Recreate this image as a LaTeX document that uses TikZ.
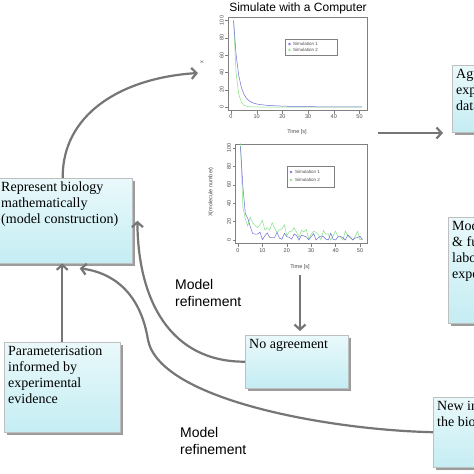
\documentclass[tikz,border=0pt]{standalone}
\usepackage{fontspec}
\setmainfont{Liberation Serif}
\setsansfont{Liberation Sans}
\usetikzlibrary{arrows.meta,shadows}
\definecolor{boxtop}{RGB}{234,249,251}
\definecolor{boxbot}{RGB}{196,237,243}
\definecolor{linkgray}{RGB}{118,118,118}
\definecolor{simblue}{RGB}{110,110,215}
\definecolor{simgreen}{RGB}{135,225,135}
\newcommand{\stagetext}[3]{\parbox[t][#2][t]{#1}{\raggedright #3}}
\tikzset{
  stage/.style={anchor=north west, draw=black!25, top color=boxtop, bottom color=boxbot, inner sep=4pt,
    drop shadow={fill=black!55, shadow xshift=2.5pt, shadow yshift=-2.5pt, opacity=0.7},
    font=\fontsize{14}{16}\selectfont},
  link/.style={draw=linkgray, line width=2.2pt, -{Straight Barb[length=5pt,width=11pt]}},
  note/.style={anchor=north west, align=left, inner sep=0pt, font=\sffamily\fontsize{14}{17}\selectfont},
  plottick/.style={font=\sffamily\fontsize{5.5}{6}\selectfont, text=black!70, inner sep=1pt},
  plotframe/.style={draw=black!50, line width=0.4pt},
  sim/.style={line width=0.5pt, mark=o, mark size=0.8pt}
}

\begin{document}
\begin{tikzpicture}[x=1pt,y=-1pt]
  \useasboundingbox (0,0) rectangle (474,474);
  \clip (0,0) rectangle (474,474);
  \fill[white] (0,0) rectangle (474,474);

  \node[font=\sffamily\fontsize{12}{14}\selectfont, inner sep=0pt] (title) at (298,8) {Simulate with a Computer};
  \begin{scope}[shift={(231,107)}, x=2.57pt, y=0.865pt]
    \draw[plotframe] (-1,-4) rectangle (53,104);
    \foreach \tx in {0,10,...,50} {
      \draw[plotframe] (\tx,-4) -- ++(0,-4);
      \node[plottick, below] at (\tx,-8) {\tx};
    }
    \foreach \yv in {0,20,...,100} {
      \draw[plotframe] (-1,\yv) -- ++(-1.2,0);
      \node[plottick, rotate=90, anchor=south] at (-2.4,\yv) {\yv};
    }
    \draw[sim, simgreen] plot[domain=1:51, samples=51] (\x, {100*exp(-0.95*(\x-1))});
    \draw[sim, simblue] plot[domain=1:51, samples=51] (\x, {93*exp(-0.55*(\x-1)) + 7*exp(-(\x-1)/10)});
  \end{scope}
  \node[plottick, rotate=90] (xlab1) at (202,62) {x};
  \node[plottick] (tlab1) at (297,132) {Time [s]};
  \draw[plotframe] (285,39) rectangle (337,55);
  \draw[simblue, line width=0.4pt] (289.5,44) circle (1pt);
  \draw[simgreen, line width=0.4pt] (289.5,50) circle (1pt);
  \node[plottick, anchor=west, font=\sffamily\fontsize{4.5}{5}\selectfont] (leg1a) at (292,44) {Simulation 1};
  \node[plottick, anchor=west, font=\sffamily\fontsize{4.5}{5}\selectfont] (leg1b) at (292,50) {Simulation 2};

  \begin{scope}[shift={(238,240)}, x=2.44pt, y=0.92pt]
    \draw[plotframe] (-1,-4) rectangle (53,104);
    \foreach \tx in {0,10,...,50} {
      \draw[plotframe] (\tx,-4) -- ++(0,-4);
      \node[plottick, below] at (\tx,-8) {\tx};
    }
    \foreach \yv in {0,20,...,100} {
      \draw[plotframe] (-1,\yv) -- ++(-1.2,0);
      \node[plottick, rotate=90, anchor=south] at (-2.4,\yv) {\yv};
    }
    \draw[sim, simgreen] plot[domain=1:51, samples=51]
      (\x, {78*exp(-1.6*(\x-1)) + max(0, 22*exp(-(\x-1)/25) + 4*sin(83*\x) + 3*sin(157*\x))});
    \draw[sim, simblue] plot[domain=1:51, samples=51]
      (\x, {95*exp(-0.6*(\x-1)) + max(0, 5 - \x/15 + 3*sin(97*\x) + 2*sin(211*\x))});
  \end{scope}
  \node[plottick, rotate=90] (xlab2) at (211,192) {X(molecule number)};
  \node[plottick] (tlab2) at (300,267) {Time [s]};
  \draw[plotframe] (287,166) rectangle (334,187);
  \draw[simblue, line width=0.4pt] (291,172) circle (1pt);
  \draw[simgreen, line width=0.4pt] (291,180) circle (1pt);
  \node[plottick, anchor=west, font=\sffamily\fontsize{4.5}{5}\selectfont] (leg2a) at (294,172) {Simulation 1};
  \node[plottick, anchor=west, font=\sffamily\fontsize{4.5}{5}\selectfont] (leg2b) at (294,180) {Simulation 2};

  \coordinate (sim1in) at (198,73);
  \coordinate (sim1out) at (378,133);
  \coordinate (sim2out) at (300,275);

  \node[stage] (rep) at (-3,178) {\stagetext{127pt}{77pt}{Represent biology\\ mathematically\\ (model construction)}};
  \node[stage] (param) at (4,342) {\stagetext{108pt}{82pt}{Parameterisation\\ informed by\\ experimental\\ evidence}};
  \node[stage] (noagr) at (245,335) {\stagetext{95pt}{45pt}{No agreement}};
  \node[stage] (agree) at (452,65) {\stagetext{112pt}{59pt}{Agreement with\\ experimental\\ data}};
  \node[stage] (refine) at (448,217) {\stagetext{112pt}{98pt}{Model predictions\\ \& further\\ laboratory\\ experiments}};
  \node[stage] (insight) at (433,397) {\stagetext{112pt}{62pt}{New insights into\\ the biology}};

  \node[note] (refine1) at (175,279) {Model\\ refinement};
  \node[note] (refine2) at (180,427) {Model\\ refinement};

  \draw[link] ([xshift=-2pt]rep.north) .. controls (62,115) and (120,78) .. (sim1in);
  \draw[link] (param.north) -- (param.north |- rep.south);
  \draw[link] (noagr.west) .. controls (170,362) and (138,300) .. ([xshift=5pt]rep.east);
  \draw[link] (insight.west) .. controls (330,430) and (160,400) .. (148,340)
    .. controls (140,290) and (110,272) .. ([xshift=15pt,yshift=-5pt]rep.south);
  \draw[link, shorten >=9pt] (sim1out) -- (sim1out -| agree.west);
  \draw[link, shorten >=4pt] (sim2out) -- (sim2out |- noagr.north);
\end{tikzpicture}
\end{document}
